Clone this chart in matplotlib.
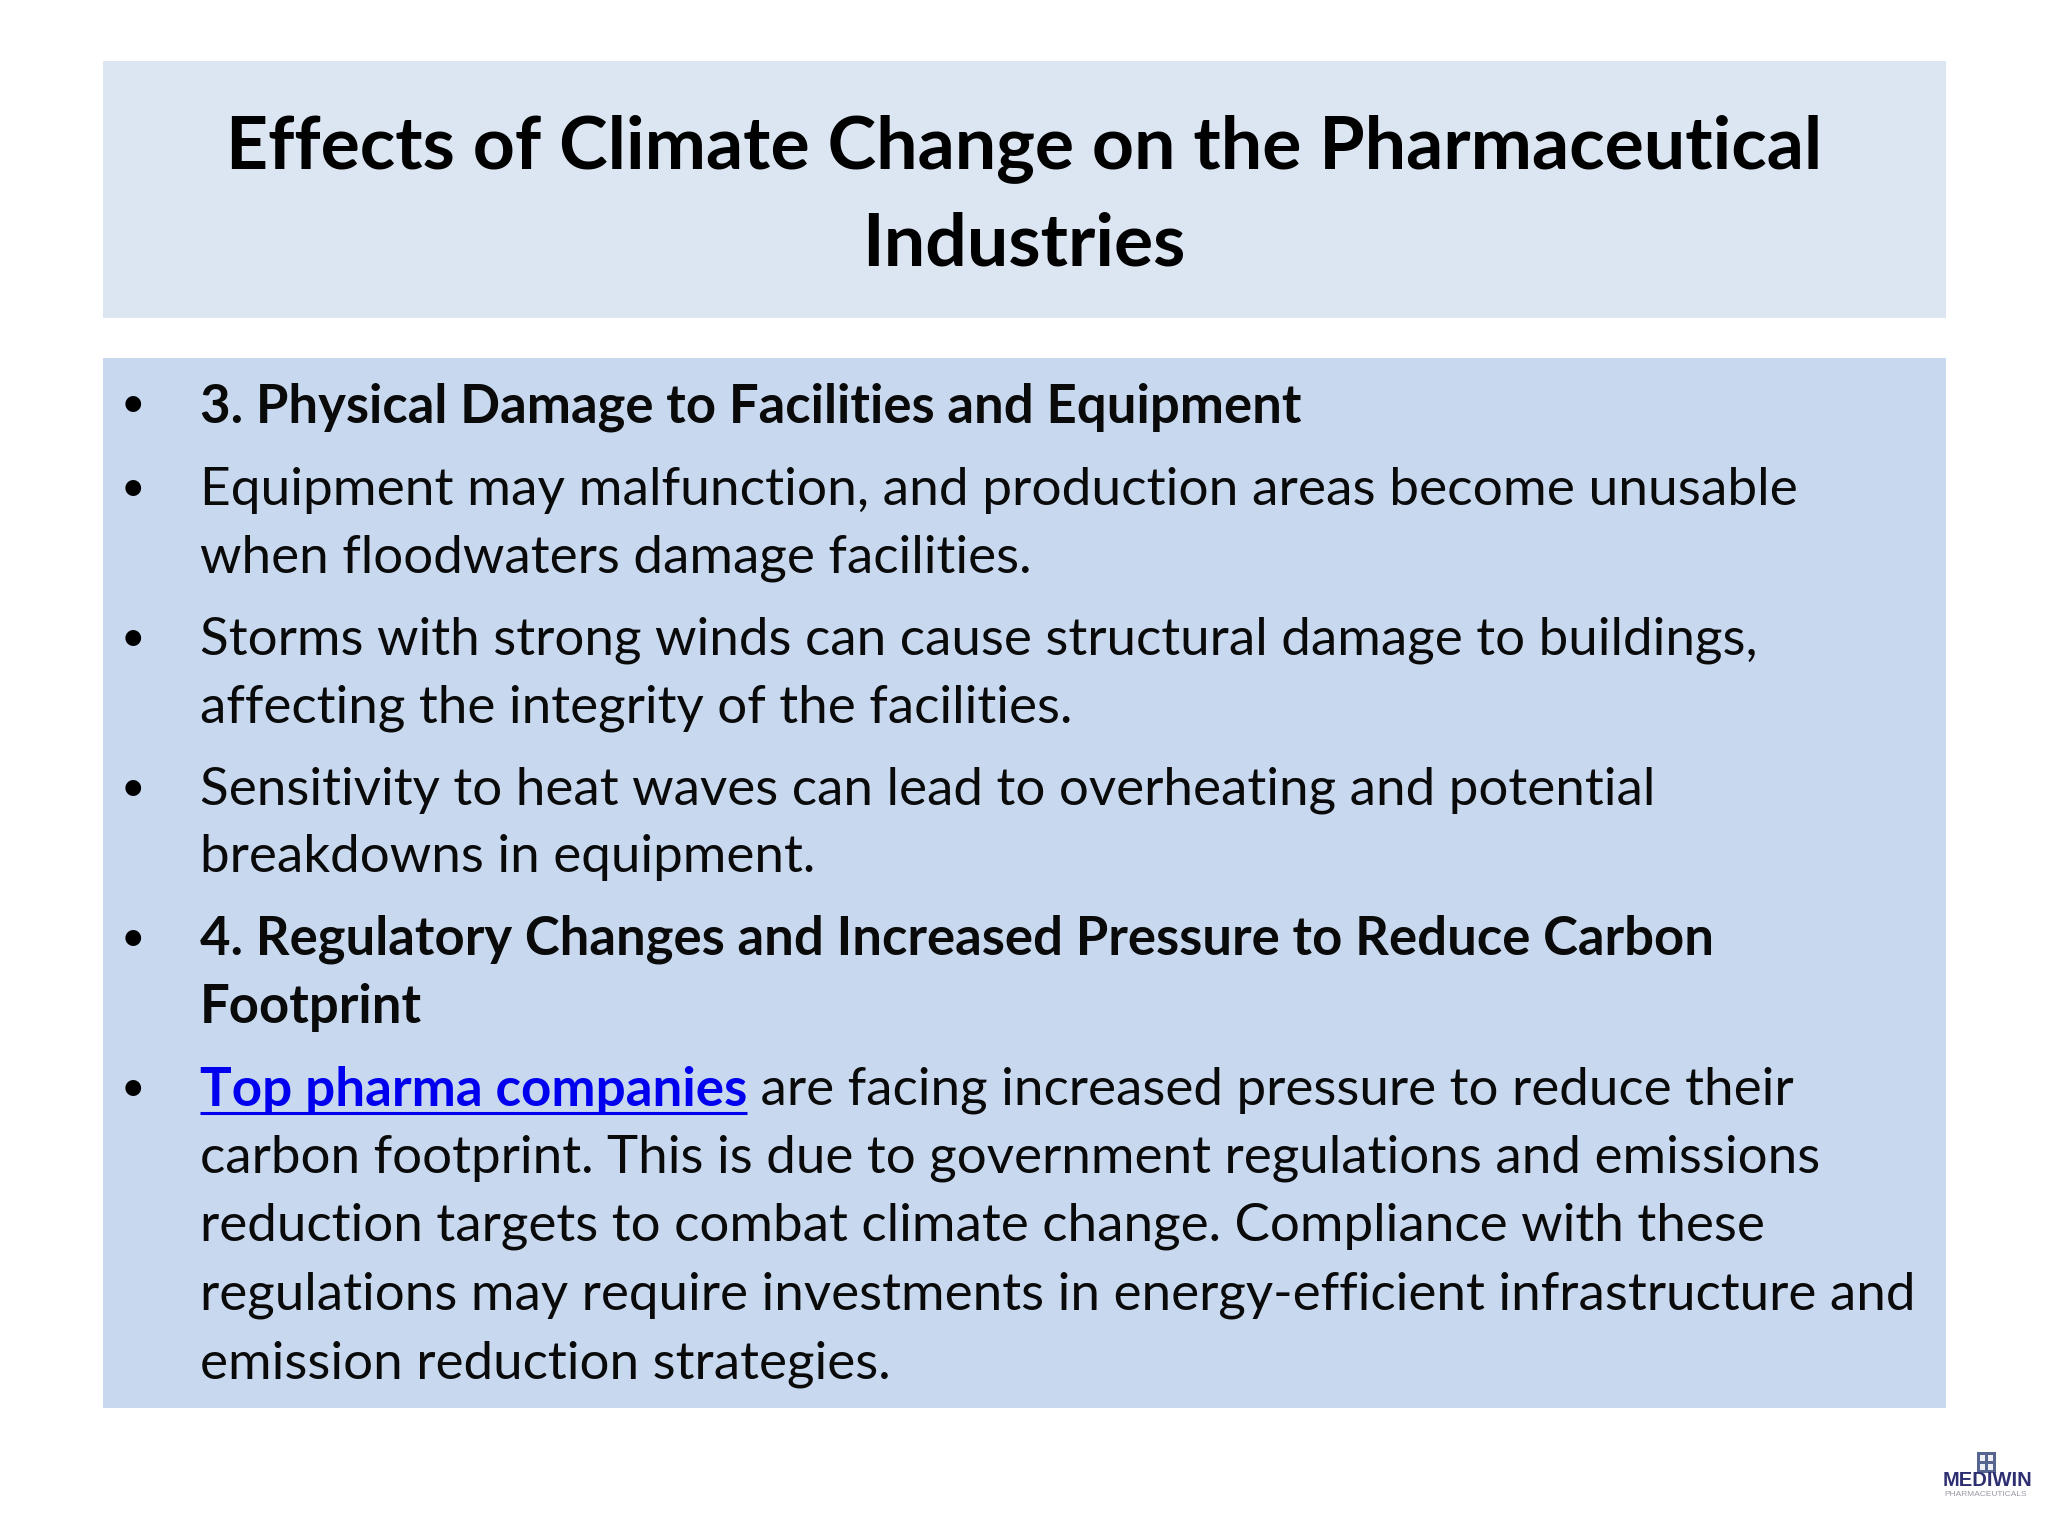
#!/usr/bin/env python3
# Slide: effects of climate change on pharma industries
import matplotlib
matplotlib.use("Agg")
import matplotlib.pyplot as plt
from matplotlib.patches import Rectangle

title_lines = ["Effects of Climate Change on the Pharmaceutical", "Industries"]

body_lines = [
    "3. Physical Damage to Facilities and Equipment",
    "Equipment may malfunction, and production areas become unusable",
    "when floodwaters damage facilities.",
    "Storms with strong winds can cause structural damage to buildings,",
    "affecting the integrity of the facilities.",
    "Sensitivity to heat waves can lead to overheating and potential",
    "breakdowns in equipment.",
    "4. Regulatory Changes and Increased Pressure to Reduce Carbon",
    "Footprint",
    "carbon footprint. This is due to government regulations and emissions",
    "reduction targets to combat climate change. Compliance with these",
    "regulations may require investments in energy-efficient infrastructure and",
    "emission reduction strategies.",
]
link_text = "Top pharma companies"
link_rest = " are facing increased pressure to reduce their"

# layout, pixels from the top left of the slide
W, H = 2048, 1536
FONT = "Lato"
SIZE = 38.1
BOLD = 37.9
TEXT_X = 200
BULLET_X = 133
title_ys = [149, 245]
body_ys = [402, 485.5, 553.5, 635, 703, 785, 853, 935, 1003, 1154, 1222, 1290.5, 1359]
link_y = 1086
bold_rows = {0, 7, 8}
bullet_rows = {0, 1, 3, 5, 7}
row_sizes = {1: 38.35}

fig = plt.figure(figsize=(W / 100, H / 100), dpi=100)
ax = fig.add_axes([0, 0, 1, 1])
ax.set_xlim(0, W)
ax.set_ylim(H, 0)
ax.axis("off")

ax.add_patch(Rectangle((103, 61), 1843, 257, color="#dce5f2", lw=0))
ax.add_patch(Rectangle((103, 358), 1843, 1050, color="#c7d8ef", lw=0))

for s, y in zip(title_lines, title_ys):
    ax.text(1024, y, s, fontsize=52.8, fontweight="bold", family=FONT,
            ha="center", va="center", color="black")

for i, (s, y) in enumerate(zip(body_lines, body_ys)):
    bold = i in bold_rows
    size = row_sizes.get(i, BOLD if bold else SIZE)
    ax.text(TEXT_X, y, s, fontsize=size, fontweight="bold" if bold else "normal",
            family=FONT, ha="left", va="center_baseline", color="#0a0a0a")
    if i in bullet_rows:
        ax.text(BULLET_X, y, "•", fontsize=SIZE * 0.8, family=FONT,
                ha="center", va="center_baseline", color="black")

# hyperlink line, rest is placed after measuring the link
ax.text(BULLET_X, link_y, "•", fontsize=SIZE * 0.8, family=FONT,
        ha="center", va="center_baseline", color="black")
t = ax.text(TEXT_X, link_y, link_text, fontsize=38.2, fontweight="bold", family=FONT,
            ha="left", va="center_baseline", color="#0000ee")
fig.canvas.draw()
bb = t.get_window_extent()
ax.plot([TEXT_X, bb.x1], [link_y + 26.5, link_y + 26.5], color="#0000ee", lw=2.2, solid_capstyle="butt")
ax.text(bb.x1, link_y, link_rest, fontsize=SIZE, family=FONT,
        ha="left", va="center_baseline", color="#0a0a0a")

# small logo, bottom right
ax.add_patch(Rectangle((1977, 1452), 19, 21, color="#56658f", lw=0))
for i in range(2):
    for j in range(2):
        ax.add_patch(Rectangle((1980 + 8 * i, 1455 + 9 * j), 5, 6, color="#eef0f6", lw=0))
ax.text(1987.5, 1481, "MEDIWIN", fontsize=14.5, fontweight="bold", family="Liberation Sans",
        ha="center", va="center", color="#2d2f70")
ax.text(1986, 1494, "PHARMACEUTICALS", fontsize=6, family="Liberation Sans",
        ha="center", va="center", color="#9a9aa8")

fig.savefig("out.png", dpi=100, facecolor="white")
plt.close(fig)
